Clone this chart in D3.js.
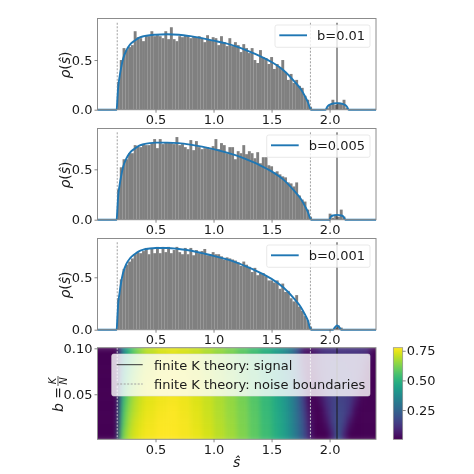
<!DOCTYPE html>
<html>
<head>
<meta charset="utf-8">
<script src="https://cdn.jsdelivr.net/npm/d3@7"></script>
<style>
    html, body { margin: 0; padding: 0; background: #fff; }
    svg { filter: blur(0.35px); }
    text { font-family: "DejaVu Sans", sans-serif; fill: #1a1a1a; }
</style>
</head>
<body>
<svg id="chart" width="474" height="474"></svg>
<script>
const sTicks = [0.5, 1.0, 1.5, 2.0];
const rhoTicks = [0.0, 0.5];
const bTicks = [0.05, 0.10];
const colorTicks = [0.25, 0.50, 0.75];

const signalPos = 2.064;
const noiseLow = 0.17;
const noiseHigh = 1.835;

const binStart = 0.168;
const binStep = 0.024;
const signalBinStart = 1.968;

// histogram heights
const bars1 = [.28,.50,.62,.60,.63,.65,.79,.73,.72,.69, .75,.74,.79,.74,.75,.74,.72,.79,.71,.83,
    .71,.69,.74,.73,.75,.74,.72,.74,.73,.74, .72,.68,.75,.70,.73,.72,.65,.74,.68,.64,
    .72,.64,.68,.65,.58,.66,.62,.57,.62,.50, .47,.60,.53,.52,.46,.53,.41,.46,.43,.50,
    .38,.30,.36,.27,.30,.24,.22,.14,.10,.03];
const bars2 = [.30,.52,.60,.60,.66,.66,.74,.73,.72,.75, .74,.74,.76,.80,.71,.80,.75,.77,.77,.76,
    .75,.82,.74,.75,.72,.70,.79,.69,.78,.72, .70,.71,.72,.70,.73,.80,.70,.76,.74,.66,
    .72,.72,.60,.68,.66,.74,.65,.68,.66,.61, .67,.56,.62,.62,.54,.53,.47,.48,.45,.43,
    .42,.37,.36,.33,.37,.24,.20,.18,.10,.03];
const bars3 = [.30,.48,.58,.62,.65,.68,.72,.74,.73,.75, .78,.72,.78,.73,.79,.73,.79,.74,.79,.73,
    .76,.79,.74,.72,.78,.72,.78,.71,.76,.73, .75,.77,.71,.72,.74,.72,.72,.70,.67,.69,
    .68,.67,.66,.64,.61,.65,.62,.60,.55,.59, .52,.54,.54,.51,.47,.47,.45,.47,.39,.44,
    .36,.37,.30,.27,.33,.22,.18,.13,.09,.03];
const signalBars1 = [.02,.05,.10,.05,.07,.06,.10,.02];
const signalBars2 = [0,.06,.02,.05,.03,.10,.03,0];
const signalBars3 = [0,0,0,.02,.04,.02,0,0];

// theory curves
const curveS = [0, .165, .172, .178, .19, .205, .22, .25, .28, .32, .36, .4, .45, .5, .6, .7, .8, .9, 1.0, 1.1, 1.2, 1.3, 1.4, 1.5, 1.6, 1.7, 1.75, 1.79, 1.815, 1.83, 1.84];
const curve1 = [0, 0, .12, .22, .33, .43, .51, .60, .655, .695, .725, .74, .75, .755, .76, .755, .74, .72, .695, .67, .635, .59, .54, .48, .40, .28, .21, .13, .07, .02, 0];
const curve2 = [0, 0, .12, .23, .34, .44, .52, .61, .665, .705, .735, .75, .76, .765, .765, .76, .745, .725, .70, .67, .635, .59, .54, .48, .40, .28, .21, .13, .07, .02, 0];
const curve3 = [0, 0, .13, .24, .35, .46, .54, .63, .68, .72, .75, .765, .775, .78, .78, .77, .755, .73, .705, .675, .64, .595, .545, .485, .405, .29, .22, .14, .08, .02, 0];
const domeS1 = [1.965, 1.98, 2.0, 2.03, 2.065, 2.1, 2.13, 2.15, 2.165, 2.4];
const dome1 = [0, .03, .05, .062, .066, .062, .05, .03, 0, 0];
const domeS2 = [2.0, 2.01, 2.03, 2.065, 2.1, 2.12, 2.135, 2.4];
const dome2 = [0, .03, .042, .048, .042, .03, 0, 0];
const domeS3 = [2.03, 2.045, 2.065, 2.085, 2.1, 2.4];
const dome3 = [0, .022, .04, .022, 0, 0];

// heatmap cells, rows from top (b=0.1) to bottom
const heatEdgesS = [-0.05,.17,.19,.22,.26,.3,.35,.4,.5,.6,.7,.8,.9,1,1.1,1.2,1.3,1.4,1.5,1.55,1.6,1.65,1.7,1.75,1.8,1.85,1.9,1.95,2,2.05,2.1,2.15,2.2,2.25,2.3,2.35,2.45];
const heatEdgesB = [.105,.0875,.075,.0625,.05,.0375,.025,.0125,-.004];
const heatRows = [
    [0,.04,.25,.42,.52,.60,.65,.70,.73,.74,.73,.71,.68,.65,.62,.58,.54,.49,.44,.41,.36,.30,.20,.06,.03,.06,.10,.12,.12,.12,.12,.12,.12,.11,.09,.01],
    [0,.05,.30,.47,.56,.63,.68,.72,.745,.75,.74,.72,.69,.66,.63,.59,.55,.50,.45,.42,.37,.31,.21,.07,.02,.05,.10,.12,.13,.13,.13,.12,.12,.10,.03,0],
    [0,.06,.34,.51,.59,.65,.70,.73,.75,.755,.745,.725,.70,.67,.64,.60,.56,.51,.46,.43,.38,.32,.23,.10,.01,.03,.09,.12,.13,.14,.13,.13,.12,.08,.01,0],
    [0,.08,.38,.54,.62,.67,.71,.74,.755,.76,.75,.73,.705,.675,.645,.61,.565,.515,.47,.44,.39,.33,.25,.13,.01,.01,.07,.12,.14,.15,.14,.13,.10,.03,0,0],
    [0,.10,.42,.57,.64,.69,.72,.745,.76,.765,.755,.735,.71,.68,.65,.615,.57,.52,.475,.445,.40,.34,.26,.15,.02,0,.04,.11,.15,.16,.15,.13,.06,.01,0,0],
    [0,.12,.46,.60,.66,.70,.73,.75,.765,.77,.76,.74,.715,.685,.655,.62,.575,.525,.48,.45,.41,.35,.27,.17,.04,0,.01,.08,.15,.17,.16,.11,.02,0,0,0],
    [0,.15,.50,.62,.68,.72,.74,.76,.77,.77,.765,.745,.72,.69,.66,.625,.58,.53,.485,.46,.415,.355,.28,.19,.06,0,0,.04,.14,.19,.14,.04,0,0,0,0],
    [0,.22,.55,.65,.70,.73,.75,.765,.775,.775,.765,.75,.725,.695,.665,.63,.585,.535,.49,.46,.42,.36,.29,.20,.08,0,0,0,.08,.22,.08,0,0,0,0,0]
];

const colorSteps = [.776,.74,.70,.66,.62,.58,.54,.50,.46,.42,.38,.34,.30,.26,.22,.18,.14,.10,.06,.02,.003];

const panels = [
    { label: 'b=0.01', bars: bars1, signalBars: signalBars1, curve: curve1, domeS: domeS1, dome: dome1,
        top: 18.5, bottom: 109.7, yMax: 0.918, lineTop: 0.875, legendX: 275 },
    { label: 'b=0.005', bars: bars2, signalBars: signalBars2, curve: curve2, domeS: domeS2, dome: dome2,
        top: 128.5, bottom: 219.7, yMax: 0.905, lineTop: 0.867, legendX: 266.7 },
    { label: 'b=0.001', bars: bars3, signalBars: signalBars3, curve: curve3, domeS: domeS3, dome: dome3,
        top: 238.5, bottom: 329.7, yMax: 0.87, lineTop: 0.834, legendX: 266.7 }
];

const left = 97.5, right = 376, fontSize = 13;
const blue = '#1f77b4', spineColor = '#8c8c8c';

const svg = d3.select('#chart');
const x = d3.scaleLinear().domain([0, 2.4]).range([left, right]);
const color = d3.scaleSequential(d3.interpolateViridis).domain([0.003, 0.776]);

function styleAxis(g) {
    g.selectAll('.domain').remove();
    g.selectAll('.tick line').attr('stroke', '#555').attr('stroke-width', 0.7);
    g.selectAll('.tick text').style('font-size', fontSize + 'px');
}

function drawFrame(top, bottom) {
    svg.append('rect')
        .attr('x', left).attr('y', top)
        .attr('width', right - left).attr('height', bottom - top)
        .attr('fill', 'none')
        .attr('stroke', spineColor)
        .attr('stroke-width', 1);
}

function drawXAxis(bottom) {
    svg.append('g')
        .attr('transform', `translate(0,${bottom})`)
        .call(d3.axisBottom(x).tickValues(sTicks).tickFormat(d3.format('.1f')).tickSize(3).tickPadding(2))
        .call(styleAxis);
}

function drawBars(values, start, y) {
    svg.append('g').selectAll('rect')
        .data(values)
        .enter()
        .append('rect')
        .attr('x', (d, i) => x(start + i * binStep))
        .attr('y', d => y(d))
        .attr('width', x(binStep) - x(0) + 0.1)
        .attr('height', d => y(0) - y(d))
        .attr('fill', '#808080');
}

function drawPanel(p) {
    const y = d3.scaleLinear().domain([0, p.yMax]).range([p.bottom, p.top]);

    drawBars(p.bars, binStart, y);
    drawBars(p.signalBars, signalBinStart, y);

    [noiseLow, noiseHigh].forEach(s => {
        svg.append('line')
            .attr('x1', x(s)).attr('x2', x(s))
            .attr('y1', y(p.lineTop)).attr('y2', y(0))
            .attr('stroke', '#a0a0a0')
            .attr('stroke-width', 1)
            .attr('stroke-dasharray', '2,1.5');
    });
    svg.append('line')
        .attr('x1', x(signalPos)).attr('x2', x(signalPos))
        .attr('y1', y(p.lineTop)).attr('y2', y(0))
        .attr('stroke', '#333')
        .attr('stroke-width', 1);

    const line = d3.line().x(d => x(d[0])).y(d => y(d[1])).curve(d3.curveMonotoneX);
    const theory = d3.zip(curveS, p.curve).concat(d3.zip(p.domeS, p.dome));
    svg.append('path')
        .attr('d', line(theory))
        .attr('fill', 'none')
        .attr('stroke', blue)
        .attr('stroke-width', 1.9);

    drawFrame(p.top, p.bottom);
    drawXAxis(p.bottom);

    svg.append('g')
        .attr('transform', `translate(${left},0)`)
        .call(d3.axisLeft(y).tickValues(rhoTicks).tickFormat(d3.format('.1f')).tickSize(3).tickPadding(2))
        .call(styleAxis);

    const rhoLabel = svg.append('text')
        .attr('transform', `translate(69.5,${p.top + 46.5}) rotate(-90)`)
        .attr('text-anchor', 'middle')
        .style('font-size', '14px');
    rhoLabel.append('tspan').attr('font-style', 'italic').text('\u03c1');
    rhoLabel.append('tspan').text('(');
    rhoLabel.append('tspan').attr('font-style', 'italic').text('s\u0302');
    rhoLabel.append('tspan').text(')');

    // legend
    const legendTop = p.top + 6.5;
    svg.append('rect')
        .attr('x', p.legendX).attr('y', legendTop)
        .attr('width', 370 - p.legendX).attr('height', 22.3)
        .attr('rx', 2)
        .attr('fill', '#fff').attr('fill-opacity', 0.8)
        .attr('stroke', '#e0e0e0').attr('stroke-width', 0.7);
    svg.append('line')
        .attr('x1', p.legendX + 4.3).attr('x2', p.legendX + 32)
        .attr('y1', legendTop + 10.3).attr('y2', legendTop + 10.3)
        .attr('stroke', blue)
        .attr('stroke-width', 1.9);
    svg.append('text')
        .attr('x', p.legendX + 42)
        .attr('y', legendTop + 15)
        .style('font-size', fontSize + 'px')
        .text(p.label);
}

function drawHeatmap() {
    const top = 347.7, bottom = 439.3;
    const y = d3.scaleLinear().domain([0.001, 0.1]).range([bottom, top + 0.6]);

    const defs = svg.append('defs');
    defs.append('clipPath').attr('id', 'heatClip')
        .append('rect')
        .attr('x', left).attr('y', top)
        .attr('width', right - left).attr('height', bottom - top);
    defs.append('filter').attr('id', 'heatBlur')
        .attr('filterUnits', 'userSpaceOnUse')
        .attr('x', 0).attr('y', 300).attr('width', 474).attr('height', 174)
        .attr('color-interpolation-filters', 'sRGB')
        .append('feGaussianBlur').attr('stdDeviation', '2.4 4');

    const cells = svg.append('g')
        .attr('clip-path', 'url(#heatClip)')
        .append('g')
        .attr('filter', 'url(#heatBlur)');
    heatRows.forEach((row, r) => {
        cells.append('g').selectAll('rect')
            .data(row)
            .enter()
            .append('rect')
            .attr('x', (d, i) => x(heatEdgesS[i]))
            .attr('y', y(heatEdgesB[r]))
            .attr('width', (d, i) => x(heatEdgesS[i + 1]) - x(heatEdgesS[i]) + 0.5)
            .attr('height', y(heatEdgesB[r + 1]) - y(heatEdgesB[r]) + 0.5)
            .attr('fill', d => color(d));
    });

    [noiseLow, noiseHigh].forEach(s => {
        svg.append('line')
            .attr('x1', x(s)).attr('x2', x(s))
            .attr('y1', top).attr('y2', bottom)
            .attr('stroke', '#c8c8d0')
            .attr('stroke-width', 1)
            .attr('stroke-dasharray', '2,1.5');
    });
    svg.append('line')
        .attr('x1', x(signalPos)).attr('x2', x(signalPos))
        .attr('y1', top).attr('y2', bottom)
        .attr('stroke', '#1a1a1a')
        .attr('stroke-width', 1);

    drawFrame(top, bottom);
    drawXAxis(bottom);

    svg.append('g')
        .attr('transform', `translate(${left},0)`)
        .call(d3.axisLeft(y).tickValues(bTicks).tickFormat(d3.format('.2f')).tickSize(3).tickPadding(2))
        .call(styleAxis);

    // y label: b = K/N
    const bLabel = svg.append('g').attr('transform', 'translate(58,393) rotate(-90)');
    bLabel.append('text')
        .attr('x', -19).attr('y', 4.5)
        .style('font-size', '14px')
        .html('<tspan font-style="italic">b</tspan> =');
    bLabel.append('text')
        .attr('x', 12).attr('y', -2)
        .attr('text-anchor', 'middle')
        .attr('font-style', 'italic')
        .style('font-size', '10px')
        .text('K');
    bLabel.append('line')
        .attr('x1', 7).attr('x2', 17)
        .attr('y1', 0).attr('y2', 0)
        .attr('stroke', '#1a1a1a')
        .attr('stroke-width', 0.7);
    bLabel.append('text')
        .attr('x', 12).attr('y', 9)
        .attr('text-anchor', 'middle')
        .attr('font-style', 'italic')
        .style('font-size', '10px')
        .text('N');

    svg.append('text')
        .attr('x', x(1.2)).attr('y', 467)
        .attr('text-anchor', 'middle')
        .attr('font-style', 'italic')
        .style('font-size', '14px')
        .text('s\u0302');

    // legend
    svg.append('rect')
        .attr('x', 111.7).attr('y', 354)
        .attr('width', 258.3).attr('height', 42)
        .attr('rx', 2)
        .attr('fill', '#fff').attr('fill-opacity', 0.8)
        .attr('stroke', '#e0e0e0').attr('stroke-opacity', 0.8).attr('stroke-width', 0.7);
    svg.append('line')
        .attr('x1', 116.7).attr('x2', 142.7)
        .attr('y1', 364.7).attr('y2', 364.7)
        .attr('stroke', '#333')
        .attr('stroke-width', 1);
    svg.append('line')
        .attr('x1', 116.7).attr('x2', 142.7)
        .attr('y1', 384).attr('y2', 384)
        .attr('stroke', '#a0a0a0')
        .attr('stroke-width', 1)
        .attr('stroke-dasharray', '2,1.5');
    svg.append('text')
        .attr('x', 154).attr('y', 369.5)
        .style('font-size', fontSize + 'px')
        .text('finite K theory: signal');
    svg.append('text')
        .attr('x', 154).attr('y', 389)
        .style('font-size', fontSize + 'px')
        .text('finite K theory: noise boundaries');
}

function drawColorbar() {
    const top = 347.7, bottom = 439.3, barLeft = 393.3, barRight = 402.7;
    const y = d3.scaleLinear().domain([0.003, 0.776]).range([bottom, top]);

    // gradient built from the colour step values
    const gradient = svg.select('defs').append('linearGradient')
        .attr('id', 'viridisBar')
        .attr('x1', 0).attr('x2', 0).attr('y1', 0).attr('y2', 1);
    gradient.selectAll('stop')
        .data(colorSteps)
        .enter()
        .append('stop')
        .attr('offset', d => (y(d) - top) / (bottom - top))
        .attr('stop-color', d => color(d));

    svg.append('rect')
        .attr('x', barLeft).attr('y', top)
        .attr('width', barRight - barLeft).attr('height', bottom - top)
        .attr('fill', 'url(#viridisBar)')
        .attr('stroke', spineColor)
        .attr('stroke-width', 0.7);

    svg.append('g')
        .attr('transform', `translate(${barRight},0)`)
        .call(d3.axisRight(y).tickValues(colorTicks).tickFormat(d3.format('.2f')).tickSize(3).tickPadding(1))
        .call(styleAxis);
}

panels.forEach(drawPanel);
drawHeatmap();
drawColorbar();
</script>
</body>
</html>
